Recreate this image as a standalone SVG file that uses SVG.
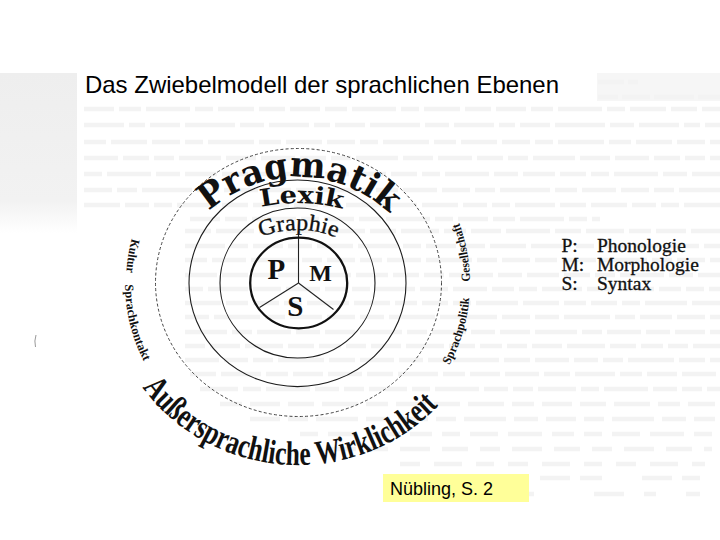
<svg xmlns="http://www.w3.org/2000/svg" width="720" height="540" viewBox="0 0 720 540">
  <defs>
    <style>
      .ring { fill: none; stroke: #1c1c1c; stroke-width: 1.1; }
      .dash { fill: none; stroke: #444; stroke-width: 1; stroke-dasharray: 3 2.2; }
      .spoke { stroke: #222; stroke-width: 1.1; }
      .scan { fill: none; stroke: #f3f3f3; stroke-width: 4.5; }
      .serif { font-family: "Liberation Serif", "DejaVu Serif", serif; fill: #111; }
      .wide { font-family: "DejaVu Serif", "Liberation Serif", serif; font-weight: bold; fill: #111; }
      .sans { font-family: "Liberation Sans", Arial, sans-serif; fill: #000; }
      .small { font-family: "Liberation Serif", "DejaVu Serif", serif; font-weight: bold; font-size: 12.5px; fill: #111; }
      .legend { font-family: "Liberation Serif", "DejaVu Serif", serif; font-size: 19.5px; fill: #111; stroke: #111; stroke-width: 0.3; }
    </style>
    <linearGradient id="strip" x1="0" y1="0" x2="0" y2="1">
      <stop offset="0" stop-color="#eeeeee"/>
      <stop offset="0.8" stop-color="#f2f2f2"/>
      <stop offset="1" stop-color="#ffffff"/>
    </linearGradient>
    <path id="pPrag" d="M 209 211.2 A 133 133 0 0 1 387 211.2"/>
    <path id="pLexik" d="M 261 207 A 175 175 0 0 1 343 209"/>
    <path id="pGraph" d="M 261 237.1 A 100 100 0 0 1 337 237.9"/>
    <path id="pAuss" d="M 142.4 387.4 A 190 182 0 0 0 441.4 402.4"/>
    <path id="pKultur" d="M 131.9 238.5 A 172 172 0 0 0 126.3 272.5"/>
    <path id="pKontakt" d="M 125.0 284.5 A 173 173 0 0 0 143.9 361.5"/>
    <path id="pPolitik" d="M 449.2 365.1 A 172 172 0 0 0 469.3 298.0"/>
    <path id="pGesell" d="M 470.0 281.5 A 172 172 0 0 0 459.1 222.8"/>
  </defs>

  <rect width="720" height="540" fill="#ffffff"/>

  <g id="scan-background">
    <rect x="0" y="73" width="77" height="160" fill="url(#strip)"/>
    <rect x="597" y="73" width="123" height="28" fill="#f6f6f6"/>
    <line class="scan" x1="598" y1="82" x2="642" y2="82" stroke-dasharray="26 4 10 4 6 200"/>
    <line class="scan" x1="598" y1="97" x2="720" y2="97" stroke-dasharray="20 4 28 4 40 4 30 4"/>
    <line class="scan" x1="84" y1="109" x2="720" y2="109" stroke-dasharray="30 5 22 5 44 5 18 5 36 5 26 5"/>
    <line class="scan" x1="84" y1="125" x2="720" y2="125" stroke-dasharray="40 5 16 5 30 5 50 5 24 5"/>
    <line class="scan" x1="84" y1="142" x2="720" y2="142" stroke-dasharray="22 5 36 5 28 5 18 5 46 5"/>
    <line class="scan" x1="84" y1="158" x2="720" y2="158" stroke-dasharray="34 5 26 5 20 5 42 5 30 5"/>
    <line class="scan" x1="84" y1="174" x2="720" y2="174" stroke-dasharray="18 5 44 5 24 5 32 5 26 5"/>
    <line class="scan" x1="84" y1="190" x2="720" y2="190" stroke-dasharray="28 5 20 5 50 5 22 5 34 5"/>
    <line class="scan" x1="84" y1="205" x2="720" y2="205" stroke-dasharray="36 5 24 5 18 5 40 5 26 5"/>
    <line class="scan" x1="190" y1="219" x2="600" y2="219" stroke-dasharray="30 5 22 5 44 5 18 5"/>
    <line class="scan" x1="185" y1="231" x2="720" y2="231" stroke-dasharray="26 5 38 5 22 5 30 5 44 5"/>
    <line class="scan" x1="185" y1="246" x2="720" y2="246" stroke-dasharray="40 5 18 5 30 5 24 5 36 5"/>
    <line class="scan" x1="185" y1="260" x2="720" y2="260" stroke-dasharray="22 5 34 5 46 5 20 5 28 5"/>
    <line class="scan" x1="185" y1="275" x2="720" y2="275" stroke-dasharray="32 5 26 5 20 5 44 5 24 5"/>
    <line class="scan" x1="185" y1="289" x2="720" y2="289" stroke-dasharray="18 5 40 5 28 5 34 5 22 5"/>
    <line class="scan" x1="185" y1="303" x2="720" y2="303" stroke-dasharray="36 5 22 5 26 5 18 5 42 5"/>
    <line class="scan" x1="185" y1="317" x2="720" y2="317" stroke-dasharray="24 5 46 5 20 5 32 5 28 5"/>
    <line class="scan" x1="185" y1="332" x2="720" y2="332" stroke-dasharray="42 5 20 5 34 5 24 5 30 5"/>
    <line class="scan" x1="185" y1="346" x2="720" y2="346" stroke-dasharray="20 5 30 5 38 5 26 5 22 5"/>
    <line class="scan" x1="185" y1="360" x2="720" y2="360" stroke-dasharray="34 5 24 5 20 5 46 5 26 5"/>
    <line class="scan" x1="190" y1="374" x2="720" y2="374" stroke-dasharray="26 5 40 5 22 5 30 5 34 5"/>
    <line class="scan" x1="200" y1="389" x2="720" y2="389" stroke-dasharray="38 5 18 5 44 5 24 5 20 5"/>
    <line class="scan" x1="220" y1="404" x2="715" y2="404" stroke-dasharray="22 8 30 8 26 8 36 8"/>
    <line class="scan" x1="250" y1="419" x2="715" y2="419" stroke-dasharray="30 8 20 8 42 8 24 8"/>
    <line class="scan" x1="300" y1="434" x2="712" y2="434" stroke-dasharray="18 10 28 10 34 10 22 10"/>
    <line class="scan" x1="330" y1="449" x2="712" y2="449" stroke-dasharray="26 12 20 12 30 12"/>
    <line class="scan" x1="400" y1="464" x2="705" y2="464" stroke-dasharray="20 14 28 14 18 14"/>
    <line class="scan" x1="540" y1="478" x2="700" y2="478" stroke-dasharray="30 10 22 40"/>
    <line class="scan" x1="470" y1="494" x2="700" y2="494" stroke-dasharray="12 30 22 60 30 20"/>
    <path d="M 36 335 Q 34 341 35.5 347" fill="none" stroke="#9a9a9a" stroke-width="1"/>
  </g>

  <g id="title">
    <rect x="77" y="62" width="520" height="39" fill="#ffffff"/>
    <text class="sans" x="85" y="93" font-size="24" textLength="474" lengthAdjust="spacingAndGlyphs">Das Zwiebelmodell der sprachlichen Ebenen</text>
  </g>

  <g id="connectors">
    <line class="spoke" x1="298.5" y1="283" x2="298.5" y2="231"/>
    <line class="spoke" x1="298.5" y1="283" x2="259.5" y2="307.5"/>
    <line class="spoke" x1="298.5" y1="283" x2="333.5" y2="309.5"/>
  </g>

  <g id="ring-aussersprachlich">
    <ellipse class="dash" cx="298.5" cy="282.5" rx="143" ry="134"/>
    <text class="serif" font-weight="bold" font-size="34"><textPath href="#pAuss" textLength="337" lengthAdjust="spacingAndGlyphs">Außersprachliche Wirklichkeit</textPath></text>
    <text class="small"><textPath href="#pKultur" textLength="34.5" lengthAdjust="spacingAndGlyphs">Kultur</textPath></text>
    <text class="small"><textPath href="#pKontakt" textLength="80" lengthAdjust="spacingAndGlyphs">Sprachkontakt</textPath></text>
    <text class="small"><textPath href="#pPolitik" textLength="70.5" lengthAdjust="spacingAndGlyphs">Sprachpolitik</textPath></text>
    <text class="small"><textPath href="#pGesell" textLength="60" lengthAdjust="spacingAndGlyphs">Gesellschaft</textPath></text>
  </g>

  <g id="ring-pragmatik">
    <text class="wide" font-size="35"><textPath href="#pPrag" textLength="198" lengthAdjust="spacingAndGlyphs">Pragmatik</textPath></text>
  </g>

  <g id="ring-lexik">
    <ellipse class="ring" cx="297.5" cy="283.3" rx="108.5" ry="103.3"/>
    <text class="wide" font-size="24"><textPath href="#pLexik" textLength="82" lengthAdjust="spacingAndGlyphs">Lexik</textPath></text>
  </g>

  <g id="ring-graphie">
    <ellipse class="ring" cx="297.5" cy="283" rx="77.5" ry="75"/>
    <text class="serif" font-size="23" stroke="#111" stroke-width="0.35"><textPath href="#pGraph" textLength="77" lengthAdjust="spacingAndGlyphs">Graphie</textPath></text>
  </g>

  <g id="core">
    <ellipse cx="298.7" cy="283" rx="48.5" ry="45.3" fill="none" stroke="#111" stroke-width="2.3"/>
  </g>

  <g id="node-P">
    <text class="serif" x="276.3" y="279" font-size="29" font-weight="bold" text-anchor="middle">P</text>
  </g>
  <g id="node-M">
    <text class="serif" x="320.5" y="281" font-size="24" font-weight="bold" text-anchor="middle">M</text>
  </g>
  <g id="node-S">
    <text class="serif" x="295.3" y="315.7" font-size="29" font-weight="bold" text-anchor="middle">S</text>
  </g>

  <g id="legend">
    <text class="legend" x="561.5" y="251.5">P:</text>
    <text class="legend" x="597" y="251.5">Phonologie</text>
    <text class="legend" x="561.5" y="270.5">M:</text>
    <text class="legend" x="597" y="271">Morphologie</text>
    <text class="legend" x="561.5" y="290">S:</text>
    <text class="legend" x="597" y="290">Syntax</text>
  </g>

  <g id="source">
    <rect x="383" y="474" width="146" height="28" fill="#ffff99"/>
    <text class="sans" x="390" y="495" font-size="18">Nübling, S. 2</text>
  </g>
</svg>
